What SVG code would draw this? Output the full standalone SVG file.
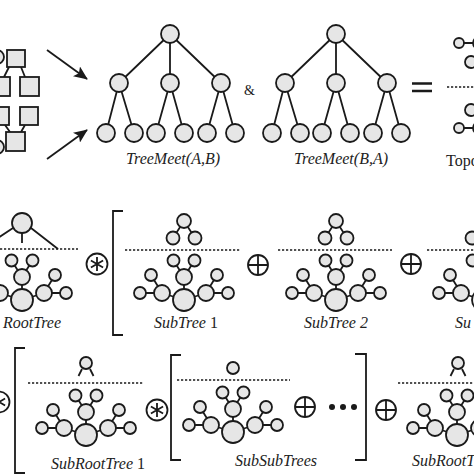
<svg xmlns="http://www.w3.org/2000/svg" xmlns:xlink="http://www.w3.org/1999/xlink" width="474" height="474" viewBox="0 0 474 474">
<defs>
<style>
.n{fill:#e6e6e6;stroke:#1a1a1a;stroke-width:1.8}
.sq{fill:#e6e6e6;stroke:#1a1a1a;stroke-width:1.8}
.e{stroke:#1a1a1a;stroke-width:1.8;fill:none}
.d{stroke:#1a1a1a;stroke-width:1.6;stroke-dasharray:2.2 1.8;fill:none}
.op{fill:#fff;stroke:#1a1a1a;stroke-width:1.8}
.br{stroke:#1a1a1a;stroke-width:1.8;fill:none}
.lbl{font-family:"Liberation Serif","Times New Roman",serif;font-style:italic;font-size:16px;fill:#222}
.up{font-style:normal}
.sym{font-family:"Liberation Serif","Times New Roman",serif;font-size:14px;fill:#222}
</style>
<marker id="ah" markerWidth="14" markerHeight="12" refX="13" refY="6" orient="auto" markerUnits="userSpaceOnUse">
<path d="M0,0 L14,6 L0,12 L3,6 z" fill="#1a1a1a"/>
</marker>
<g id="bt">
<path class="e" d="M0,0 L0,-23 M0,-23 L-10.5,-39.5 M0,-23 L10.5,-39.5 M0,0 L-22,-7 M0,0 L22,-7 M-22,-7 L-33,-25 M-22,-7 L-44,-7 M22,-7 L33,-25 M22,-7 L44,-7"/>
<circle class="n" cx="0" cy="0" r="11"/>
<circle class="n" cx="0" cy="-23" r="8"/>
<circle class="n" cx="-10.5" cy="-39.5" r="6"/>
<circle class="n" cx="10.5" cy="-39.5" r="6"/>
<circle class="n" cx="-22" cy="-7" r="8"/>
<circle class="n" cx="22" cy="-7" r="8"/>
<circle class="n" cx="-33" cy="-25" r="6"/>
<circle class="n" cx="33" cy="-25" r="6"/>
<circle class="n" cx="-44" cy="-7" r="6"/>
<circle class="n" cx="44" cy="-7" r="6"/>
</g>
<g id="plus">
<circle class="op" cx="0" cy="0" r="10"/>
<path class="e" d="M-10,0 H10 M0,-10 V10"/>
</g>
<g id="star">
<circle class="op" cx="0" cy="0" r="10.5"/>
<path class="e" stroke-width="2" d="M0,-7 V7 M-6.1,-3.5 L6.1,3.5 M-6.1,3.5 L6.1,-3.5"/>
</g>
<g id="st3">
<path class="e" d="M0,0 L-11,17 M0,0 L11,17"/>
<circle class="n" cx="0" cy="0" r="7"/>
<circle class="n" cx="-11" cy="17" r="6.5"/>
<circle class="n" cx="11" cy="17" r="6.5"/>
</g>
<g id="legs">
<path class="e" d="M-4,6 L-7.5,13 M4,6 L7.5,13"/>
<circle class="n" cx="0" cy="0" r="6"/>
</g>
</defs>

<!-- input graph (squares) -->
<g id="input-graph">
<path class="e" d="M9,67 L4,77 M21,67 L25,77 M5,125 L10,132 M25,125 L21,132"/>
<circle class="n" cx="-3" cy="57" r="7"/>
<circle class="n" cx="-3" cy="147" r="7"/>
<rect class="sq" x="7" y="50" width="18" height="17"/>
<rect class="sq" x="-9" y="77" width="19" height="19"/>
<rect class="sq" x="20" y="77" width="19" height="19"/>
<rect class="sq" x="-9" y="107" width="18" height="18"/>
<rect class="sq" x="20" y="107" width="18" height="18"/>
<rect class="sq" x="6" y="132" width="19" height="19"/>
</g>

<g id="connectors">
<line class="e" x1="47" y1="50" x2="87" y2="79" stroke-width="2" marker-end="url(#ah)"/>
<line class="e" x1="47" y1="159" x2="87" y2="130" stroke-width="2" marker-end="url(#ah)"/>
</g>

<!-- TreeMeet(A,B) -->
<g id="treemeet-ab">
<path class="e" d="M170,34 L119,83 M170,34 L170,83 M170,34 L221,83 M119,83 L106,133 M119,83 L134,133 M170,83 L156,133 M170,83 L184,133 M221,83 L207,133 M221,83 L235,133"/>
<circle class="n" cx="170" cy="34" r="9"/>
<circle class="n" cx="119" cy="83" r="9"/>
<circle class="n" cx="170" cy="83" r="9"/>
<circle class="n" cx="221" cy="83" r="9"/>
<circle class="n" cx="106" cy="133" r="9"/>
<circle class="n" cx="134" cy="133" r="9"/>
<circle class="n" cx="156" cy="133" r="9"/>
<circle class="n" cx="184" cy="133" r="9"/>
<circle class="n" cx="207" cy="133" r="9"/>
<circle class="n" cx="235" cy="133" r="9"/>
<text class="lbl" x="173" y="164" text-anchor="middle">TreeMeet(A,B)</text>
</g>

<text class="sym" x="249.5" y="95" text-anchor="middle">&amp;</text>

<!-- TreeMeet(B,A) -->
<g id="treemeet-ba">
<path class="e" d="M336,34 L285,83 M336,34 L336,83 M336,34 L387,83 M285,83 L272,133 M285,83 L300,133 M336,83 L322,133 M336,83 L350,133 M387,83 L373,133 M387,83 L401,133"/>
<circle class="n" cx="336" cy="34" r="9"/>
<circle class="n" cx="285" cy="83" r="9"/>
<circle class="n" cx="336" cy="83" r="9"/>
<circle class="n" cx="387" cy="83" r="9"/>
<circle class="n" cx="272" cy="133" r="9"/>
<circle class="n" cx="300" cy="133" r="9"/>
<circle class="n" cx="322" cy="133" r="9"/>
<circle class="n" cx="350" cy="133" r="9"/>
<circle class="n" cx="373" cy="133" r="9"/>
<circle class="n" cx="401" cy="133" r="9"/>
<text class="lbl" x="341" y="164" text-anchor="middle">TreeMeet(B,A)</text>
</g>

<g id="equals">
<path stroke="#1a1a1a" stroke-width="2.4" d="M412,83.5 H432 M412,91 H432"/>
</g>

<!-- Topology (cut) -->
<g id="topology">
<path class="e" d="M464,43 H474 M464,128 H474"/>
<circle class="n" cx="459" cy="43" r="5"/>
<circle class="n" cx="479" cy="43" r="6"/>
<circle class="n" cx="471" cy="62" r="6"/>
<line class="d" x1="447" y1="87" x2="474" y2="87"/>
<circle class="n" cx="471" cy="110" r="6"/>
<circle class="n" cx="459" cy="128" r="5"/>
<circle class="n" cx="479" cy="128" r="6"/>
<text class="lbl up" x="446" y="166">Topo</text>
</g>

<!-- Row 2 -->
<g id="roottree">
<path class="e" d="M13,228 L-5,240 M22,233 L22,243 M31,228 L58,249"/>
<circle class="n" cx="22" cy="223" r="10"/>
<line class="d" x1="0" y1="249" x2="78" y2="249"/>
<use xlink:href="#bt" x="22" y="300"/>
<text class="lbl" x="3" y="328" font-size="15.5">RootTree</text>
</g>

<use xlink:href="#star" x="97" y="264"/>
<path class="br" d="M123,211 H113 V335 H123"/>

<g id="subtree1">
<use xlink:href="#st3" x="184" y="221"/>
<line class="d" x1="125" y1="250" x2="240" y2="250"/>
<use xlink:href="#bt" x="184" y="300"/>
<text class="lbl" x="186" y="328" text-anchor="middle" font-size="15.5">SubTree <tspan class="up">1</tspan></text>
</g>

<use xlink:href="#plus" x="258" y="265"/>

<g id="subtree2">
<use xlink:href="#st3" x="336" y="221"/>
<line class="d" x1="278" y1="250" x2="392" y2="250"/>
<use xlink:href="#bt" x="336" y="300"/>
<text class="lbl" x="336" y="328" text-anchor="middle" font-size="15.5">SubTree 2</text>
</g>

<use xlink:href="#plus" x="411" y="264"/>

<g id="subtree3">
<use xlink:href="#st3" x="483" y="221"/>
<line class="d" x1="427" y1="250" x2="474" y2="250"/>
<use xlink:href="#bt" x="483" y="300"/>
<text class="lbl" x="455" y="328" font-size="15.5">Su</text>
</g>

<!-- Row 3 -->
<use xlink:href="#star" x="-1" y="402"/>
<path class="br" d="M25,348 H15 V473 H25"/>

<g id="subroottree1">
<use xlink:href="#legs" x="86" y="363"/>
<line class="d" x1="28" y1="383" x2="143" y2="383"/>
<use xlink:href="#bt" x="86" y="435"/>
<text class="lbl" x="98" y="469" text-anchor="middle">SubRootTree <tspan class="up">1</tspan></text>
</g>

<use xlink:href="#star" x="157" y="410"/>
<path class="br" d="M181,355 H171 V460 H181"/>

<g id="subsubtrees">
<circle class="n" cx="233" cy="368" r="6"/>
<line class="d" x1="177" y1="380" x2="290" y2="380"/>
<use xlink:href="#bt" x="233" y="432"/>
<text class="lbl" x="276" y="466" text-anchor="middle">SubSubTrees</text>
</g>

<use xlink:href="#plus" x="305" y="407"/>
<g id="ellipsis">
<circle cx="332" cy="407" r="3" fill="#1a1a1a"/>
<circle cx="343" cy="407" r="3" fill="#1a1a1a"/>
<circle cx="354" cy="407" r="3" fill="#1a1a1a"/>
</g>
<path class="br" d="M355,354 H366 V460 H355"/>

<use xlink:href="#plus" x="386" y="410"/>

<g id="subroottree2">
<use xlink:href="#legs" x="458" y="363"/>
<line class="d" x1="398" y1="383" x2="474" y2="383"/>
<use xlink:href="#bt" x="457" y="435"/>
<text class="lbl" x="412" y="466">SubRootT</text>
</g>
</svg>
